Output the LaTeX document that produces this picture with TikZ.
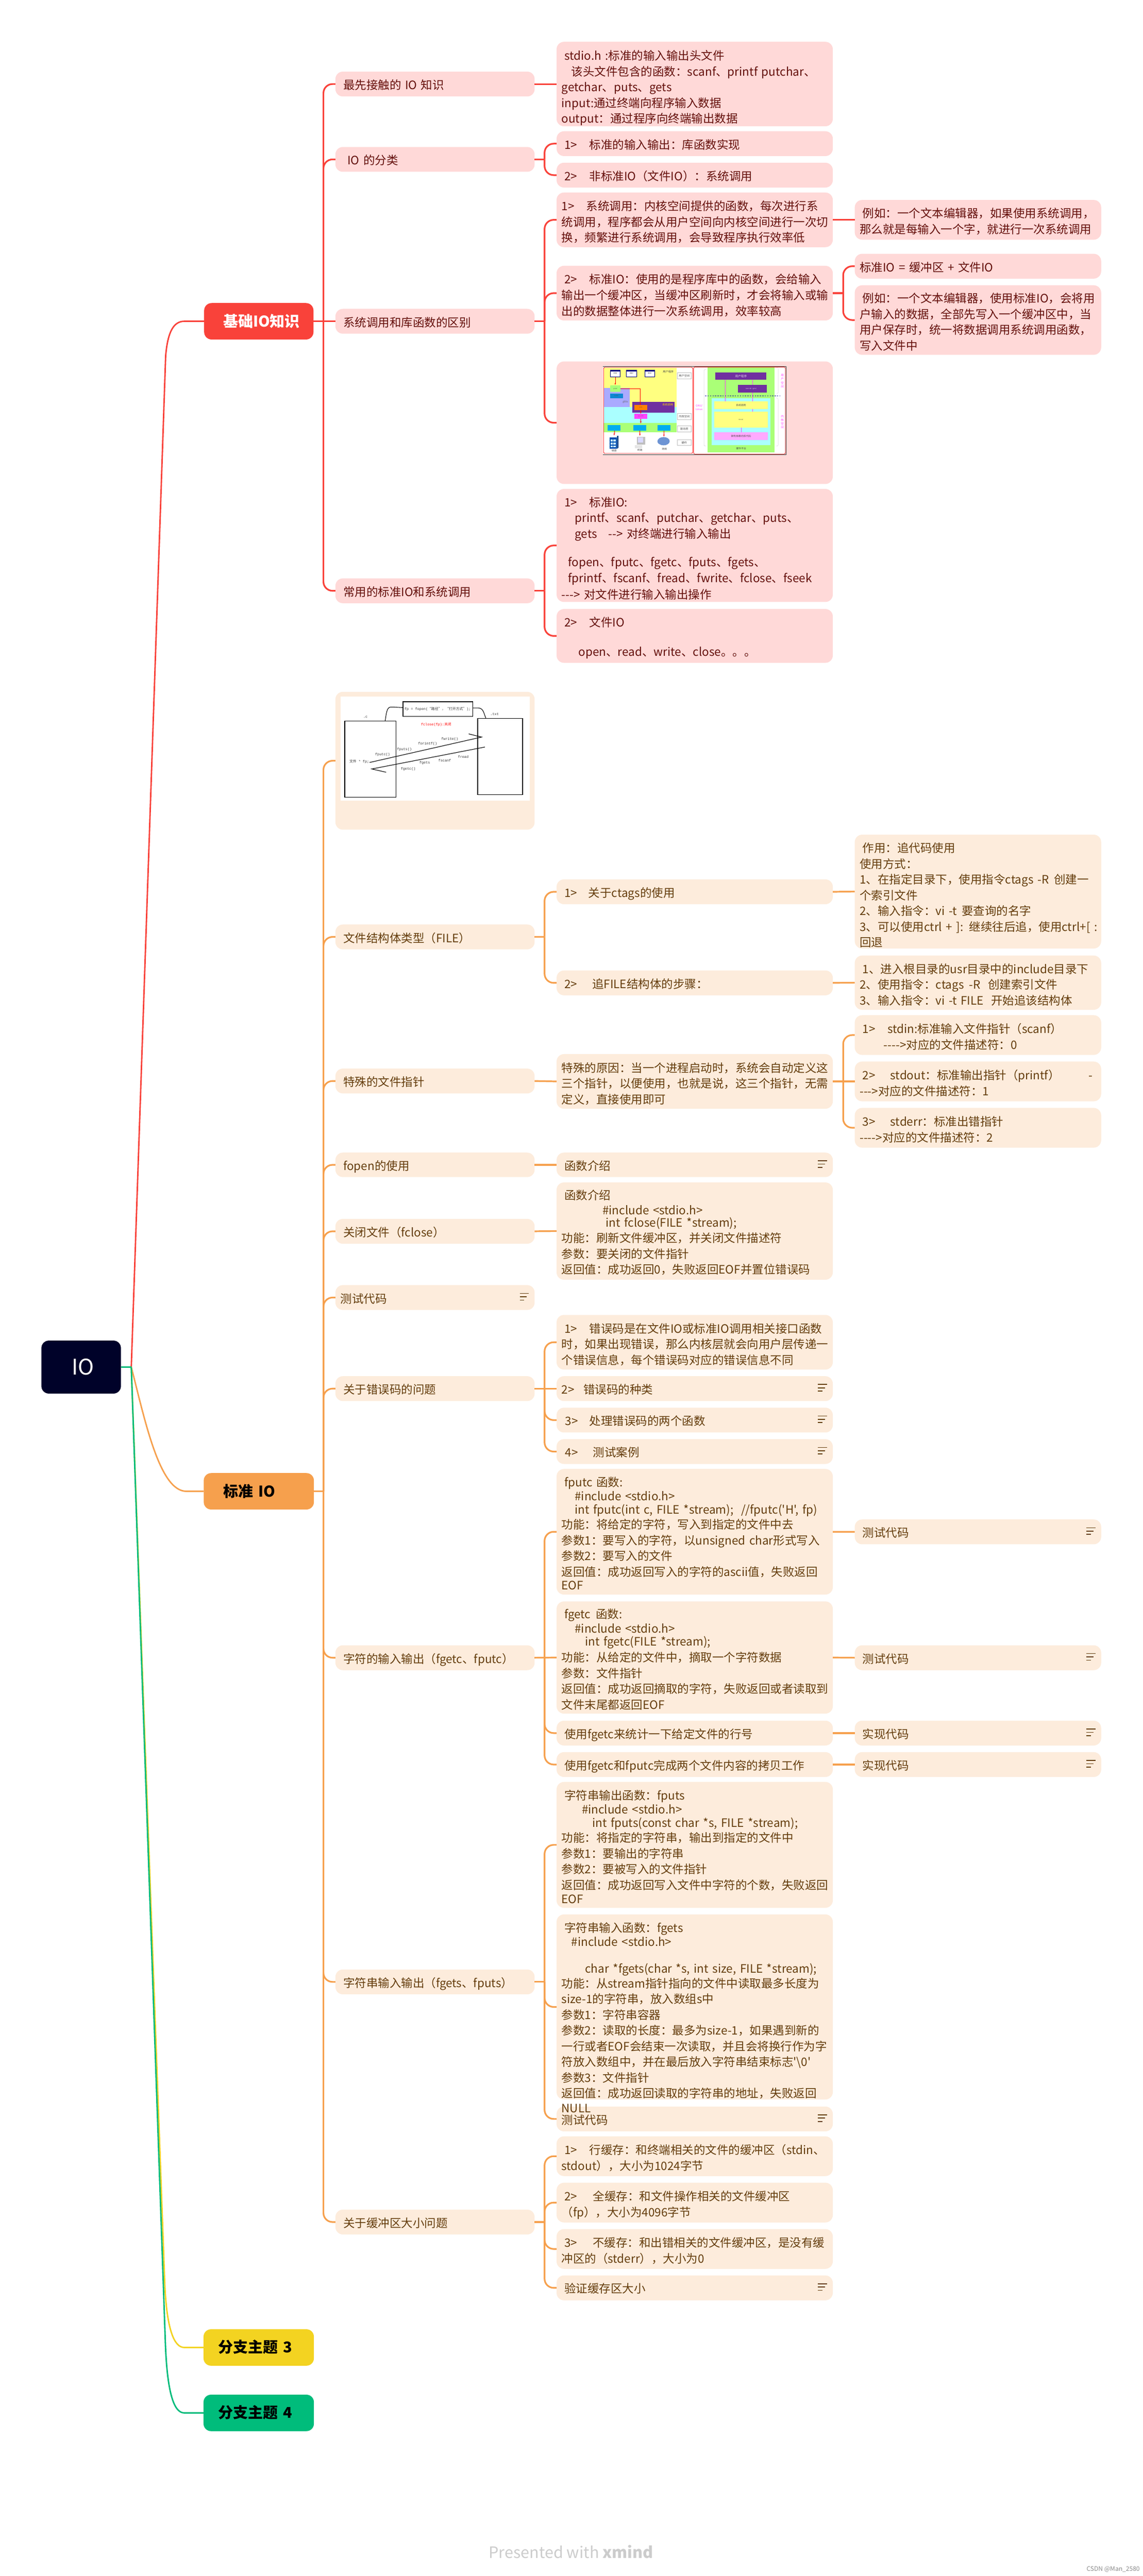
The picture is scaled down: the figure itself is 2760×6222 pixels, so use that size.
\documentclass[tikz,border=0pt]{standalone}
\usepackage{fontspec}
\newfontfamily\zh{Noto Sans CJK SC}
\newfontfamily\imono{Liberation Mono}
\definecolor{rd}{HTML}{F9423A}
\definecolor{rdl}{HTML}{FFD9D8}
\definecolor{rdt}{HTML}{640F0B}
\definecolor{org}{HTML}{F6A04D}
\definecolor{orgl}{HTML}{FDECDC}
\definecolor{orgt}{HTML}{643C0C}
\definecolor{yel}{HTML}{F3D321}
\definecolor{grn}{HTML}{00BC7B}
\definecolor{rootc}{HTML}{000229}
\definecolor{ipurple}{HTML}{7030A0}
\definecolor{iyel}{HTML}{FFFF80}
\definecolor{icyan}{HTML}{AAFFFF}
\definecolor{igrn}{HTML}{AAFF77}
\definecolor{ilav}{HTML}{AAAAFF}
\definecolor{ipink}{HTML}{FFAAFF}
\definecolor{imag}{HTML}{FF44FF}
\tikzset{
  basebox/.style={rounded corners=18pt,inner xsep=12pt,inner ysep=-60pt,outer sep=0pt,align=left,anchor=center,
    font=\zh\fontsize{28}{38}\selectfont},
  redn/.style={basebox,fill=rdl,text=rdt},
  orgn/.style={basebox,fill=orgl,text=orgt},
  major/.style={basebox,font=\zh\bfseries\fontsize{36}{44}\selectfont},
  rootn/.style={basebox,fill=rootc,text=white,font=\zh\fontsize{52}{60}\selectfont},
  conn/.style={line width=4pt},
  rootl/.style={line width=3.5pt},
  iconl/.style={line width=2pt},
  wm/.style={inner sep=0pt,outer sep=0pt,anchor=center}
}
\newcommand\ind[1]{\hspace*{#1pt}}
\newcommand\mbx[8][2.5]{%
  \pgfmathsetmacro\mbw{#5-#3}\pgfmathsetmacro\mbh{#6-#4}%
  \pgfmathsetmacro\mbcx{(#3+#5)/2}\pgfmathsetmacro\mbcy{(#4+#6)/2}%
  \pgfmathsetmacro\mbt{\mbw-24}\pgfmathsetmacro\mbtop{28.2+2*#1}%
  \node[#7,minimum width=\mbw pt,minimum height=\mbh pt,text width=\mbt pt] (#2) at (\mbcx,\mbcy)
    {\lineskiplimit=-100pt\lineskip=0pt\relax\rule{0pt}{\mbtop pt}#8\rule[-7pt]{0pt}{7pt}};}
\newcommand\cstem[4]{%
  \draw[conn,#1] (#3.east) -- (#2,0 |- #3.east);
  \draw[conn,#1,rounded corners=22pt] (#2,0 |- #3.east) -- (#2,0 |- #4.west) -- (#4.west);}
\newcommand\cdir[3]{\draw[conn,#1] (#2.east) -- (#3.west);}
\newcommand\noteicon[1]{%
  \draw[iconl,orgt] ([shift={(-36,-10)}]#1.east) -- ++(22,0);
  \draw[iconl,orgt] ([shift={(-36,-2)}]#1.east) -- ++(17,0);
  \draw[iconl,orgt] ([shift={(-36,6)}]#1.east) -- ++(11,0);}
\newcounter{imt}
\newcommand\imtxt[5]{\stepcounter{imt}\node[inner sep=0pt,outer sep=0pt,text=#4,font=\zh\fontsize{#3}{#3}\selectfont] (im\arabic{imt}) at (#1,#2) {#5};}
\newcommand\imm[4]{\stepcounter{imt}\node[inner sep=0pt,outer sep=0pt,text=#3,font=\imono\fontsize{8.5}{8.5}\selectfont] (im\arabic{imt}) at (#1,#2) {#4};}
\begin{document}
\begin{tikzpicture}[x=1pt,y=-1pt]
\useasboundingbox (0,0) rectangle (2760,6222);
\fill[white] (0,0) rectangle (2760,6222);
% --- main topics
\mbx[8]{root}{100}{3238}{292}{3366}{rootn}{\ind{61}IO}
\mbx{nred}{493}{732}{757}{820}{major,fill=rd,text=white}{\ind{34}基础IO知识}
\mbx{norg}{492}{3558}{758}{3646}{major,fill=org,text=black}{\ind{36}标准 IO}
\mbx{nyel}{491.5}{5626}{758}{5714}{major,fill=yel,text=black}{\ind{24}分支主题 3}
\mbx{ngrn}{491.5}{5784}{758}{5872}{major,fill=grn,text=black}{\ind{24}分支主题 4}
% --- red level 1
\mbx{n11}{810}{173}{1291}{233}{redn}{\ind{7}最先接触的 IO 知识}
\mbx{n12}{810}{355}{1291}{415}{redn}{\ind{17}IO 的分类}
\mbx{n13}{810}{746}{1291}{806}{redn}{\ind{7}系统调用和库函数的区别}
\mbx{n14}{810}{1397}{1291}{1457}{redn}{\ind{7}常用的标准IO和系统调用}
% --- red level 2
\mbx[7.5]{a1}{1344}{101}{2011}{305}{redn}{\ind{7}stdio.h :标准的输入输出头文件\\
\ind{24}该头文件包含的函数：scanf、printf putchar、\\
getchar、puts、gets\\
input:通过终端向程序输入数据\\
output：通过程序向终端输出数据}
\mbx[3]{a2}{1344}{317}{2011}{377}{redn}{\ind{7}1>\hspace{29pt}标准的输入输出：库函数实现}
\mbx[3]{a3}{1344}{393}{2011}{453}{redn}{\ind{7}2>\hspace{29pt}非标准IO（文件IO）：系统调用}
\mbx[5]{a4}{1344}{465}{2011}{597}{redn}{1>\hspace{29pt}系统调用：内核空间提供的函数，每次进行系\\
统调用，程序都会从用户空间向内核空间进行一次切\\
换，频繁进行系统调用，会导致程序执行效率低}
\mbx[5]{a5}{1344}{642}{2011}{774}{redn}{\ind{7}2>\hspace{29pt}标准IO：使用的是程序库中的函数，会给输入\\
输出一个缓冲区，当缓冲区刷新时，才会将输入或输\\
出的数据整体进行一次系统调用，效率较高}
\mbx{a6}{1344}{873}{2011}{1169}{redn}{}
\mbx[7]{a7}{1344}{1181}{2011}{1454}{redn}{\ind{7}1>\hspace{29pt}标准IO:\\
\ind{32}printf、scanf、putchar、getchar、puts、\\
\ind{32}gets\hspace{27pt}--> 对终端进行输入输出\\[31pt]
\ind{16}fopen、fputc、fgetc、fputs、fgets、\\
\ind{16}fprintf、fscanf、fread、fwrite、fclose、fseek\\[2pt]
---> 对文件进行输入输出操作}
\mbx{a8}{1344}{1471}{2011}{1601}{redn}{\ind{7}2>\hspace{29pt}文件IO\\[33pt]
\ind{41}open、read、write、close。。。}
% --- red level 3
\mbx[3.7]{b1}{2064}{483}{2659}{579}{redn}{\ind{7}例如：一个文本编辑器，如果使用系统调用，\\
那么就是每输入一个字，就进行一次系统调用}
\mbx{b2}{2064}{613}{2659}{673}{redn}{标准IO = 缓冲区 + 文件IO}
\mbx[5]{b3}{2064}{689}{2659}{857}{redn}{\ind{7}例如：一个文本编辑器，使用标准IO，会将用\\
户输入的数据，全部先写入一个缓冲区中，当\\
用户保存时，统一将数据调用系统调用函数，\\
写入文件中}
% --- orange level 1
\mbx{o0}{810}{1671}{1291}{2004}{orgn}{}
\mbx{o1}{810}{2233}{1291}{2293}{orgn}{\ind{7}文件结构体类型（FILE）}
\mbx{o2}{810}{2581}{1291}{2641}{orgn}{\ind{7}特殊的文件指针}
\mbx{o3}{810}{2784}{1291}{2843}{orgn}{\ind{7}fopen的使用}
\mbx{o4}{810}{2944}{1291}{3004}{orgn}{\ind{7}关闭文件（fclose）}
\mbx{o5}{810}{3104}{1291}{3164}{orgn}{测试代码}
\mbx{o6}{810}{3324}{1291}{3384}{orgn}{\ind{7}关于错误码的问题}
\mbx{o7}{810}{3974}{1291}{4034}{orgn}{\ind{7}字符的输入输出（fgetc、fputc）}
\mbx{o8}{810}{4757}{1291}{4817}{orgn}{\ind{7}字符串输入输出（fgets、fputs）}
\mbx{o9}{810}{5337}{1291}{5397}{orgn}{\ind{7}关于缓冲区大小问题}
% --- orange level 2
\mbx[2.6]{c1}{1344}{2124}{2011}{2184}{orgn}{\ind{7}1>\hspace{27pt}关于ctags的使用}
\mbx{c2}{1344}{2344}{2011}{2404}{orgn}{\ind{7}2>\hspace{36pt}追FILE结构体的步骤：}
\mbx[5]{c3}{1344}{2546}{2011}{2678}{orgn}{特殊的原因：当一个进程启动时，系统会自动定义这\\
三个指针，以便使用，也就是说，这三个指针，无需\\
定义，直接使用即可}
\mbx{c4}{1344}{2784}{2011}{2843}{orgn}{\ind{7}函数介绍}
\mbx[3.5]{c5}{1344}{2856}{2011}{3091}{orgn}{\ind{7}函数介绍\\[-3pt]
\ind{99}\#include <stdio.h>\\[-7pt]
\ind{107}int fclose(FILE *stream);\\[-1pt]
功能：刷新文件缓冲区，并关闭文件描述符\\
参数：要关闭的文件指针\\
返回值：成功返回0，失败返回EOF并置位错误码}
\mbx[5]{c6}{1344}{3176}{2011}{3308}{orgn}{\ind{7}1>\hspace{29pt}错误码是在文件IO或标准IO调用相关接口函数\\
时，如果出现错误，那么内核层就会向用户层传递一\\
个错误信息，每个错误码对应的错误信息不同}
\mbx{c7}{1344}{3324}{2011}{3384}{orgn}{2>\hspace{22pt}错误码的种类}
\mbx{c8}{1344}{3400}{2011}{3460}{orgn}{\ind{9}3>\hspace{27pt}处理错误码的两个函数}
\mbx{c9}{1344}{3476}{2011}{3536}{orgn}{\ind{9}4>\hspace{36pt}测试案例}
\mbx[5]{c10}{1344}{3548}{2011}{3851.5}{orgn}{\ind{7}fputc 函数:\\[-4pt]
\ind{32}\#include <stdio.h>\\[-6pt]
\ind{32}int fputc(int c, FILE *stream);\hspace{18pt}//fputc('H', fp)\\[-2pt]
功能：将给定的字符，写入到指定的文件中去\\
参数1：要写入的字符，以unsigned char形式写入\\
参数2：要写入的文件\\
返回值：成功返回写入的字符的ascii值，失败返回\\[-5pt]
EOF}
\mbx[4.7]{c11}{1344}{3868}{2011}{4139}{orgn}{\ind{7}fgetc\hspace{12pt}函数:\\[-4pt]
\ind{32}\#include <stdio.h>\\[-6pt]
\ind{57}int fgetc(FILE *stream);\\[0pt]
功能：从给定的文件中，摘取一个字符数据\\
参数：文件指针\\
返回值：成功返回摘取的字符，失败返回或者读取到\\
文件末尾都返回EOF}
\mbx{c12}{1344}{4156}{2011}{4216}{orgn}{\ind{7}使用fgetc来统计一下给定文件的行号}
\mbx{c13}{1344}{4232}{2011}{4292}{orgn}{\ind{7}使用fgetc和fputc完成两个文件内容的拷贝工作}
\mbx[5.5]{c14}{1344}{4304}{2011}{4608}{orgn}{\ind{7}字符串输出函数：fputs\\[-4pt]
\ind{49}\#include <stdio.h>\\[-6.5pt]
\ind{74}int fputs(const char *s, FILE *stream);\\[-1.5pt]
功能：将指定的字符串，输出到指定的文件中\\
参数1：要输出的字符串\\
参数2：要被写入的文件指针\\
返回值：成功返回写入文件中字符的个数，失败返回\\[-4.5pt]
EOF}
\mbx{c16}{1344}{5088}{2011}{5148}{orgn}{测试代码}
\mbx[26.5]{c15}{1344}{4624}{2011}{5071}{orgn}{\ind{7}字符串输入函数：fgets\\[-4pt]
\ind{24}\#include <stdio.h>\\[26pt]
\ind{57}char *fgets(char *s, int size, FILE *stream);\\[-2pt]
功能：从stream指针指向的文件中读取最多长度为\\
size-1的字符串，放入数组s中\\
参数1：字符串容器\\
参数2：读取的长度：最多为size-1，如果遇到新的\\
一行或者EOF会结束一次读取，并且会将换行作为字\\
符放入数组中，并在最后放入字符串结束标志'\textbackslash 0'\\
参数3：文件指针\\
返回值：成功返回读取的字符串的地址，失败返回\\[-3pt]
NULL}
\mbx[4]{c17}{1344}{5160}{2011}{5256}{orgn}{\ind{7}1>\hspace{29pt}行缓存：和终端相关的文件的缓冲区（stdin、\\
stdout），大小为1024字节}
\mbx[4]{c18}{1344}{5272}{2011}{5368}{orgn}{\ind{7}2>\hspace{38pt}全缓存：和文件操作相关的文件缓冲区\\
（fp），大小为4096字节}
\mbx[4]{c19}{1344}{5384}{2011}{5480}{orgn}{\ind{7}3>\hspace{37pt}不缓存：和出错相关的文件缓冲区，是没有缓\\
冲区的（stderr），大小为0}
\mbx[2]{c20}{1344}{5496}{2011}{5556}{orgn}{\ind{7}验证缓存区大小}
% --- orange level 3
\mbx[9]{d1}{2064}{2016}{2659}{2291}{orgn}{\ind{7}作用：追代码使用\\
使用方式：\\
\mbox{1、在指定目录下，使用指令ctags -R\hspace{12pt}创建一}\\
个索引文件\\
\mbox{2、输入指令：vi -t\hspace{12pt}要查询的名字}\\
\makebox[0pt][l]{3、可以使用ctrl + ]: 继续往后追，使用ctrl+[ :}\\
回退}
\mbx[5]{d2}{2064}{2308}{2659}{2439}{orgn}{\ind{7}1、进入根目录的usr目录中的include目录下\\
2、使用指令：ctags\hspace{12pt}-R\hspace{18pt}创建索引文件\\
3、输入指令：vi -t FILE\hspace{18pt}开始追该结构体}
\mbx[4]{d3}{2064}{2452}{2659}{2548}{orgn}{\ind{7}1>\hspace{29pt}stdin:标准输入文件指针（scanf）\\
\ind{58}---->对应的文件描述符：0}
\mbx[4]{d4}{2064}{2564}{2659}{2660}{orgn}{\ind{7}2>\hspace{36pt}stdout：标准输出指针（printf）\hspace{70pt}-\\
--->对应的文件描述符：1}
\mbx[4]{d5}{2064}{2676}{2659}{2772}{orgn}{\ind{7}3>\hspace{36pt}stderr：标准出错指针\\
---->对应的文件描述符：2}
\mbx{d6}{2064}{3670}{2659}{3730}{orgn}{\ind{7}测试代码}
\mbx{d7}{2064}{3974}{2659}{4034}{orgn}{\ind{7}测试代码}
\mbx{d8}{2064}{4156}{2659}{4216}{orgn}{\ind{7}实现代码}
\mbx{d9}{2064}{4232}{2659}{4292}{orgn}{\ind{7}实现代码}
% --- note icons
\noteicon{o5}\noteicon{c4}\noteicon{c7}\noteicon{c8}\noteicon{c9}\noteicon{c16}\noteicon{c20}
\noteicon{d6}\noteicon{d7}\noteicon{d8}\noteicon{d9}
% --- root connectors
\coordinate (hub) at (317,3302);
\draw[rootl,rd] (hub) -- (400,860) .. controls (405,800) and (420,776) .. (445,776) -- (nred.west);
\draw[rootl,org] (hub) .. controls (350,3430) and (385,3602) .. (450,3602) -- (norg.west);
\draw[rootl,yel] (hub) -- (398,5520) .. controls (403,5625) and (420,5670) .. (445,5670) -- (nyel.west);
\draw[rootl,grn] (hub) -- (399,5650) .. controls (403,5780) and (420,5828) .. (445,5828) -- (ngrn.west);
\draw[rootl,grn] (root.east) -- (hub);
% --- red connectors
\cstem{rd}{781}{nred}{n11}\cstem{rd}{781}{nred}{n12}\cdir{rd}{nred}{n13}\cstem{rd}{781}{nred}{n14}
\cdir{rd}{n11}{a1}
\cstem{rd}{1315}{n12}{a2}\cstem{rd}{1315}{n12}{a3}
\cstem{rd}{1315}{n13}{a4}\cstem{rd}{1315}{n13}{a5}\cstem{rd}{1315}{n13}{a6}
\cstem{rd}{1315}{n14}{a7}\cstem{rd}{1315}{n14}{a8}
\cdir{rd}{a4}{b1}
\cstem{rd}{2036}{a5}{b2}\cstem{rd}{2036}{a5}{b3}
% --- orange connectors
\foreach \ch in {o0,o1,o2,o3,o4,o5,o6,o7,o8,o9}{\cstem{org}{781}{norg}{\ch}}
\cstem{org}{1315}{o1}{c1}\cstem{org}{1315}{o1}{c2}
\cdir{org}{o2}{c3}\cdir{org}{o3}{c4}\cdir{org}{o4}{c5}
\cstem{org}{1315}{o6}{c6}\cdir{org}{o6}{c7}\cstem{org}{1315}{o6}{c8}\cstem{org}{1315}{o6}{c9}
\cstem{org}{1315}{o7}{c10}\cdir{org}{o7}{c11}\cstem{org}{1315}{o7}{c12}\cstem{org}{1315}{o7}{c13}
\cstem{org}{1315}{o8}{c14}\cstem{org}{1315}{o8}{c15}\cstem{org}{1315}{o8}{c16}
\cstem{org}{1315}{o9}{c17}\cstem{org}{1315}{o9}{c18}\cstem{org}{1315}{o9}{c19}\cstem{org}{1315}{o9}{c20}
\cdir{org}{c1}{d1}\cdir{org}{c2}{d2}
\cstem{org}{2036}{c3}{d3}\cdir{org}{c3}{d4}\cstem{org}{2036}{c3}{d5}
\cdir{org}{c10}{d6}\cdir{org}{c11}{d7}\cdir{org}{c12}{d8}\cdir{org}{c13}{d9}
% --- embedded picture in a6 (coordinates of the source figure)
\begin{scope}[shift={(1340,860)},x=0.4337pt,y=-0.3333pt]
\fill[white] (267,75) rectangle (1288,715);
\draw[black!80,line width=1pt] (267,75) -- (1288,75) -- (1288,715) -- (267,715);
\fill[iyel] (272,84) rectangle (677,368);
\fill[ilav] (272,232) rectangle (417,368);
\fill[icyan] (272,368) rectangle (677,484);
\fill[igrn] (270,484) rectangle (677,554);
\fill[ipurple] (432,333) rectangle (666,412);
\foreach \xa in {308,398,499}{
  \fill[white] (\xa,103) rectangle ++(56,48);
  \fill[blue!50!black] (\xa,103) rectangle ++(56,10);
  \draw[blue!50!black,line width=.6pt] (\xa,103) rectangle ++(56,48);}
\imtxt{336}{126}{5}{black!70}{app}\imtxt{426}{126}{5}{black!70}{app}\imtxt{527}{126}{5}{black!70}{app}
\imtxt{631}{114}{6.5}{black!70}{用户程序}
\fill[igrn,rounded corners=1pt] (308,212) rectangle (365,260);
\imtxt{336}{237}{3.5}{black!70}{printf}
\fill[cyan!70!blue] (308,271) rectangle (379,306);
\imtxt{343}{290}{3.5}{black!70}{buffer}
\imtxt{393}{333}{6}{black!60}{glibc}
\fill[orange] (443,356) rectangle (513,390);
\imtxt{478}{373}{3}{black!70}{write}
\imtxt{628}{354}{6.5}{yellow!70!orange}{系统调用}
\fill[imag] (443,418) rectangle (514,454);
\imtxt{478}{437}{3}{black!70}{sys\_write}
\foreach \xb/\xc in {294/366,437/509,572/644}{\fill[cyan] (\xb,499) rectangle (\xc,542);}
\draw[red,line width=.6pt,-latex] (336,152) -- (336,210);
\draw[red,line width=.6pt,-latex] (366,236) -- (476,236) -- (476,356);
\draw[red,line width=.6pt,-latex] (478,390) -- (478,418);
\draw[red,line width=.6pt,-latex] (478,454) -- (478,488);
\draw[red,line width=.6pt,-latex] (330,542) -- (330,576);
\draw[red,line width=.6pt,-latex] (473,542) -- (473,578);
\draw[red,line width=.6pt,-latex] (607,542) -- (607,584);
\fill[blue!55!cyan!70!black] (305,588) rectangle (346,672);
\fill[blue!55!cyan!50!black] (346,578) -- (354,578) -- (354,664) -- (346,672) -- cycle;
\foreach \yy in {605,627,648}{\fill[white!80!cyan] (310,\yy) rectangle ++(12,14);\fill[white!80!cyan] (326,\yy) rectangle ++(12,14);}
\fill[black!25] (458,585) rectangle (503,640);
\fill[blue!15] (462,590) rectangle (490,625);
\fill[black!10] (445,645) rectangle (485,668);
\fill[cyan!45!blue!60] (605,617) ellipse (34 and 30);
\fill[cyan!45!blue!60] (585,620) ellipse (14 and 18);
\imtxt{330}{685}{6}{black!70}{磁盘}\imtxt{473}{682}{6}{black!70}{终端}\imtxt{610}{673}{6}{black!70}{网络}
\foreach \ya/\yb in {121/163,416/458,506/548,605/648}{
  \draw[black!25,line width=.6pt] (681,\ya) rectangle (760,\yb);}
\imtxt{720}{142}{6.5}{black!70}{用户空间}\imtxt{720}{437}{6.5}{black!70}{内核空间}\imtxt{720}{527}{6.5}{black!70}{驱动层}\imtxt{720}{627}{6.5}{black!70}{硬件}
\fill[igrn] (851,82) rectangle (1222,697);
\fill[icyan] (873,305) rectangle (1201,645);
\fill[ipurple] (893,118) rectangle (1178,173);
\fill[ipurple] (1019,210) rectangle (1180,265);
\fill[iyel] (888,329) rectangle (1185,384);
\fill[iyel] (888,402) rectangle (1185,518);
\fill[ipink] (888,553) rectangle (1185,609);
\imtxt{1036}{145}{7}{white!80!ipurple}{用户程序}
\imtxt{1095}{238}{3.5}{white!80!ipurple}{GNU C库（glibc）}
\imtxt{1036}{356}{6}{black!70}{系统调用}
\imtxt{1036}{460}{3.5}{black!70}{Kernel}
\imtxt{1036}{580}{6}{black!70}{架构依赖内核代码}
\imtxt{1037}{672}{6}{black!70}{硬件平台}
\draw[imag,line width=.7pt] (949,173) -- (949,329);
\draw[imag,line width=.7pt] (1099,173) -- (1099,210);
\draw[imag,line width=.7pt] (1099,265) -- (1099,329);
\draw[imag,line width=.7pt] (1100,385) -- (1100,402);
\draw[imag,line width=.7pt] (1036,518) -- (1036,553);
\draw[blue!60!black,line width=.6pt,dashed] (836,287) -- (1255,287);
\draw[black!20,line width=.5pt,rounded corners=2pt] (843,97) -- (830,97) -- (830,652) -- (843,652);
\draw[black!20,line width=.5pt,rounded corners=2pt] (1230,82) -- (1243,82) -- (1243,272) -- (1230,272);
\draw[black!20,line width=.5pt,rounded corners=2pt] (1230,305) -- (1243,305) -- (1243,652) -- (1230,652);
\imtxt{803}{360}{6.5}{imag}{GNU/}\imtxt{803}{387}{6.5}{imag}{Linux}
\imtxt{1266}{140}{7}{imag}{用}\imtxt{1266}{167}{7}{imag}{户}\imtxt{1266}{194}{7}{imag}{空}\imtxt{1266}{221}{7}{imag}{间}
\imtxt{1266}{437}{7}{imag}{内}\imtxt{1266}{464}{7}{imag}{核}\imtxt{1266}{491}{7}{imag}{空}\imtxt{1266}{518}{7}{imag}{间}
\draw[red,line width=1pt,rounded corners=3pt] (271,82) rectangle (767,705);
\draw[red,line width=1pt,rounded corners=3pt] (772,80) rectangle (1283,710);
\end{scope}
% --- embedded picture in o0 (coordinates of the source figure)
\begin{scope}[shift={(780,1640)},x=0.35714pt,y=-0.3333pt]
\fill[white] (118,129) rectangle (1397,881);
\draw[black,line width=1.4pt] (147,306) rectangle (495,856);
\draw[black,line width=1.4pt] (1046,286) rectangle (1349,840);
\draw[black,line width=1.8pt] (540,165) rectangle (1012,272);
\draw[black,line width=1.3pt] (420,303) .. controls (432,220) and (435,200) .. (470,203) -- (540,207);
\draw[black,line width=1.3pt] (1012,210) -- (1050,210) .. controls (1080,212) and (1085,235) .. (1100,283);
\draw[black,line width=1.4pt] (315,605) -- (1072,421) -- (985,398);
\draw[black,line width=1.4pt] (1095,493) -- (330,652) -- (427,676);
\imm{287}{274}{black!80}{.c}
\imm{1160}{254}{black!80}{.txt}
\imm{775}{219}{black!80}{fp = fopen({\zh “路径”，“打开方式”});}
\imm{765}{330}{red}{fclose(fp):{\zh 关闭}}
\imm{857}{437}{black!80}{fwrite()}
\imm{707}{468}{black!80}{forintf()}
\imm{550}{511}{black!80}{fputs()}
\imm{403}{549}{black!80}{fputc()}
\imm{245}{600}{black!80}{{\zh 文件} * fp;}
\imm{576}{653}{black!80}{fgetc()}
\imm{688}{607}{black!80}{fgets}
\imm{823}{590}{black!80}{fscanf}
\imm{948}{564}{black!80}{fread}
\end{scope}
% --- watermark
\node[wm,text=black!20,font=\zh\fontsize{38}{44}\selectfont] (wm1) at (1379,6164) {Presented with \textbf{xmind}};
\node[wm,text=black!45,font=\zh\fontsize{15}{18}\selectfont] (wm2) at (2688,6206) {CSDN @Man\_2580};
\end{tikzpicture}
\end{document}
